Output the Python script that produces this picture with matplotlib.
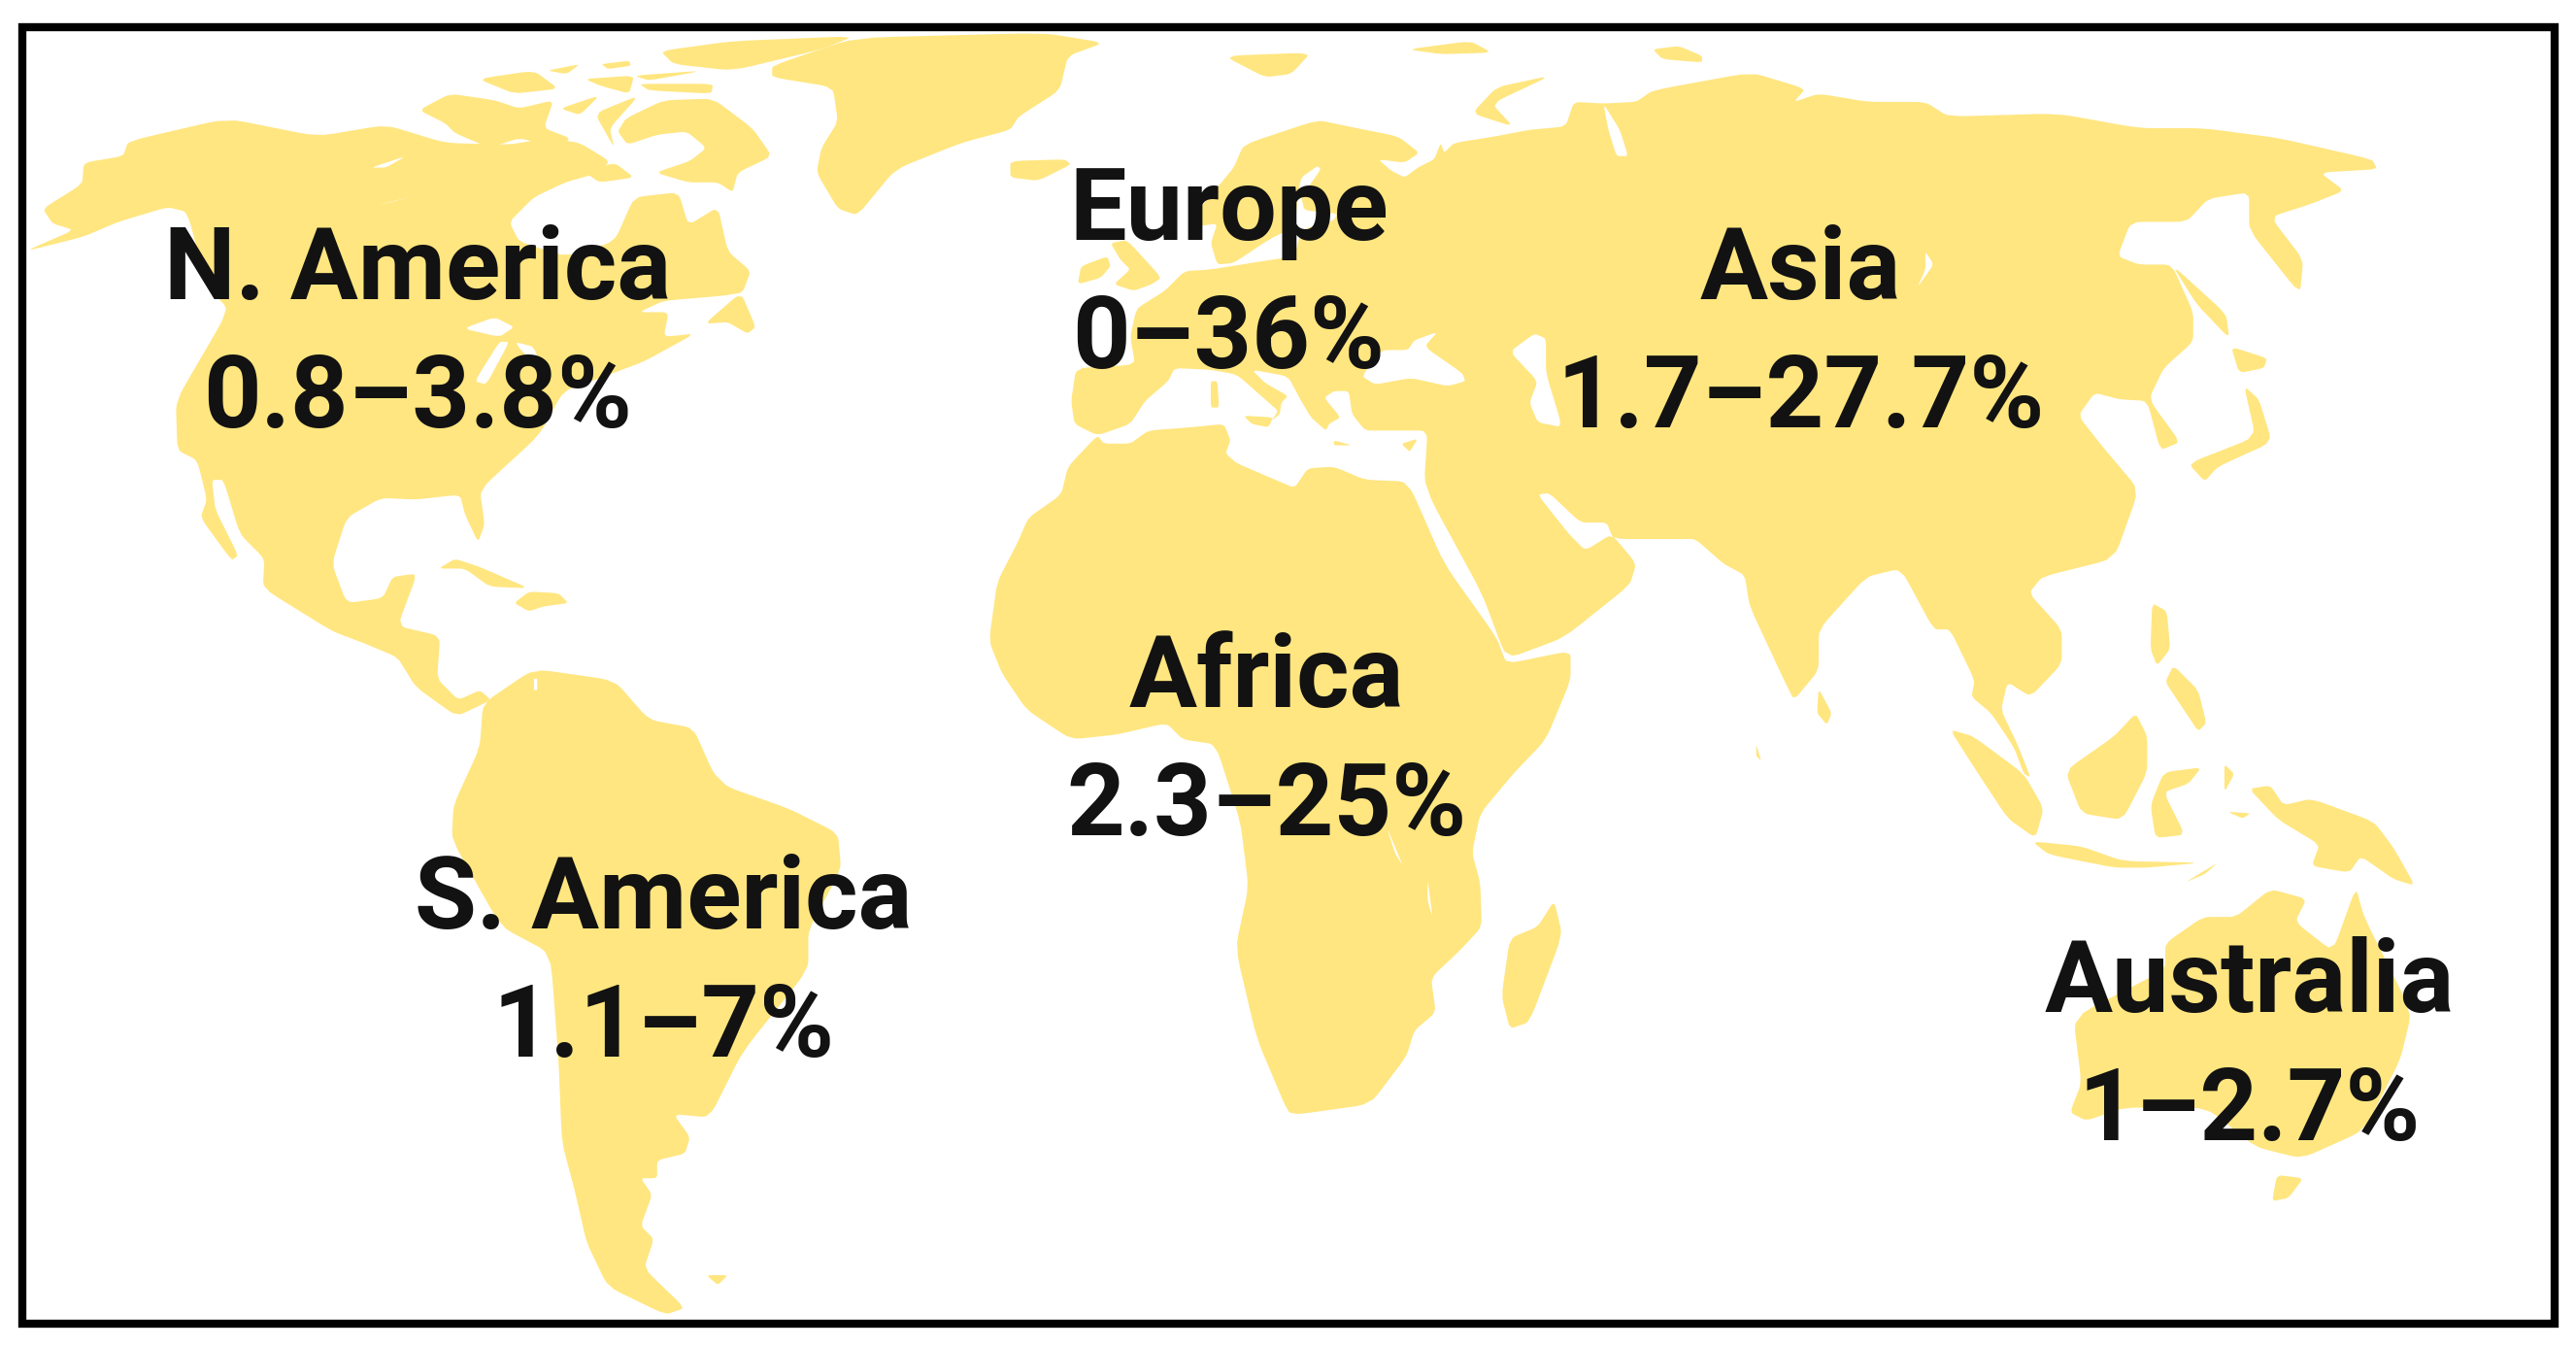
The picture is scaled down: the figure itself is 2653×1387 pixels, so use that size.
import matplotlib
matplotlib.use("Agg")
import matplotlib.pyplot as plt
from matplotlib.patches import Rectangle

plt.rcParams['font.family'] = ['Roboto', 'DejaVu Sans']

# labels
regions = ['N. America', 'Europe', 'Asia', 'Africa', 'S. America', 'Australia']
ranges = ['0.8–3.8%', '0–36%', '1.7–27.7%', '2.3–25%', '1.1–7%', '1–2.7%']
label_x = [254, 748, 1096, 771, 404, 1369]
name_base = [182, 146, 182, 430, 565, 616]
range_base = [260, 224, 260, 508, 643, 694]

# map outlines (x, y in picture units, y down)
north_america = [(15,153),(45,140),(32,136),(26,127),(50,112),(51,99),(75,95),(78,86),(138,72),(193,83),(235,76),(271,87),(310,88),
                 (334,84),(353,87),(371,98),(365,105),(344,111),(325,120),(310,135),(316,147),(344,156),(374,147),(386,120),(413,117),
                 (419,137),(437,126),(443,153),(457,165),(452,178),(440,180),(404,183),(389,190),(407,190),(404,205),(423,203),
                 (392,220),(368,229),(343,238),(328,265),(292,298),(295,319),(291,330),(283,313),(280,301),(253,304),(232,303),
                 (211,315),(202,343),(211,367),(233,364),(239,351),(254,349),(242,381),(268,387),(266,413),(279,426),(292,420),
                 (299,426),(278,436),(253,418),(242,400),(223,392),(202,384),(160,358),(161,340),(146,325),(136,292),(129,292),
                 (131,310),(145,338),(141,341),(122,315),(126,304),(120,280),(108,274),(107,244),(135,196),(138,187),(126,174),
                 (114,129),(102,126),(72,135),(51,144)]
south_america = [(294,428),(325,407),(374,414),(395,438),(422,443),(434,470),(443,479),(480,492),(510,507),(512,529),(492,566),
                 (492,590),(452,640),(432,680),(410,678),(420,692),(417,702),(400,706),(400,717),(390,717),(397,727),(390,746),
                 (398,754),(392,772),(417,796),(405,800),(370,783),(357,756),(350,725),(342,695),(340,645),(335,580),(305,564),
                 (275,511),(276,490),(292,455)]
africa = [(668,265),(672,270),(688,270),(699,262),(725,260),(745,258),(749,268),(746,276),(753,282),(774,291),(788,297),(796,285),
          (812,284),(831,292),(857,293),(879,343),(911,388),(917,404),(956,396),(956,414),(941,450),(921,471),(901,495),(896,519),
          (901,537),(902,564),(889,578),(871,595),(874,616),(861,627),(856,643),(834,672),(791,678),(784,677),(765,632),(752,577),
          (760,540),(755,500),(740,453),(720,450),(710,440),(680,447),(652,450),(625,432),(610,410),(602,390),(607,354),(619,331),
          (626,315),(646,301),(650,284)]
eurasia = [(668,265),(688,258),(697,244),(711,232),(715,224),(737,225),(753,228),(770,243),(778,250),(774,256),(779,252),(780,245),
           (784,241),(770,233),(762,225),(784,229),(792,244),(798,254),(807,262),(809,258),(816,254),(806,242),(812,238),(821,238),
           (823,252),(831,262),(847,262),(869,262),(867,292),(872,306),(902,361),(917,401),(952,388),(992,356),(996,343),(981,325),
           (965,335),(955,325),(936,301),(943,300),(962,318),(978,318),(982,328),(1020,328),(1032,328),(1049,343),(1062,350),(1065,369),
           (1086,414),(1092,426),(1107,408),(1107,383),(1136,351),(1157,346),(1177,383),(1187,383),(1202,414),(1200,424),(1212,434),
           (1226,455),(1232,471),(1236,473),(1228,453),(1218,432),(1222,415),(1236,424),(1255,404),(1255,383),(1235,361),(1243,351),
           (1287,340),(1302,298),(1280,272),(1265,253),(1275,239),(1290,243),(1307,244),(1315,274),(1327,269),(1308,243),(1317,224),
           (1335,208),(1335,190),(1322,161),(1302,161),(1289,156),(1297,135),(1331,135),(1344,121),(1369,117),(1369,140),(1400,179),
           (1402,158),(1382,132),(1407,124),(1427,116),(1412,105),(1447,103),(1444,97),(1387,84),(1341,78),(1302,78),(1252,69),
           (1186,71),(1172,62),(1137,62),(1107,57),(1092,62),(1099,54),(1066,44),(1006,55),(996,62),(976,63),(958,62),(953,77),
           (931,79),(910,83),(885,87),(879,93),(877,87),(873,97),(863,102),(855,108),(847,104),(839,97),(855,99),(864,93),(851,83),
           (821,77),(802,73),(757,88),(751,102),(741,114),(729,128),(727,138),(741,136),(737,148),(741,161),(751,160),(772,146),
           (788,138),(790,120),(792,108),(802,101),(804,103),(792,120),(794,128),(814,130),(812,134),(792,140),(788,156),(768,159),
           (737,164),(721,165),(709,177),(693,187),(691,191),(688,205),(691,222),(655,224),(652,244),(654,258)]
greenland = [(520,23),(635,20),(672,26),(650,34),(645,55),(620,71),(615,79),(585,87),(545,103),(522,131),(510,127),(497,105),
             (500,90),(510,74),(507,53),(470,47),(470,40)]
australia = [(1382,541),(1404,547),(1397,561),(1420,579),(1434,540),(1439,558),(1468,616),(1461,645),(1439,688),(1401,705),
             (1373,698),(1343,674),(1293,674),(1270,682),(1260,677),(1267,659),(1262,619),(1318,590),(1318,574),(1341,558),(1361,558)]
new_guinea = [(1369,480),(1382,478),(1390,490),(1407,486),(1445,500),(1457,516),(1470,539),(1457,535),(1437,521),(1430,531),
              (1407,527),(1412,514),(1387,499)]
madagascar = [(946,548),(951,569),(931,622),(919,626),(914,606),(919,571),(936,564)]
islands = [
    # arctic canada
    [(381,72),(404,61),(434,60),(458,78),(470,95),(449,105),(446,117),(437,111),(419,111),(399,105),(420,98),(430,90),(418,80),(400,82),(382,88),(376,80)],
    [(255,67),(274,57),(301,61),(316,66),(337,61),(331,78),(347,84),(341,90),(316,84),(298,90),(277,81),(271,75)],
    [(341,66),(365,58),(353,70)],
    [(362,69),(389,58),(371,78),(374,90)],
    [(356,105),(374,99),(386,108),(365,111)],
    [(291,48),(325,43),(340,54),(313,57)],
    [(333,43),(353,39),(345,45)],
    [(366,39),(383,37),(384,40),(370,42)],
    [(356,48),(386,46),(383,57),(365,52)],
    [(389,51),(434,51),(433,57),(395,55)],
    [(386,46),(428,43),(395,49)],
    [(402,31),(446,25),(520,22),(500,30),(446,43),(410,39)],
    # atlantic
    [(429,197),(451,178),(460,199),(455,203),(443,196)],
    [(615,98),(648,97),(652,100),(632,110),(615,108)],
    [(267,346),(277,340),(292,345),(322,358),(298,357),(283,346)],
    [(313,367),(322,360),(340,361),(346,367),(331,369),(322,372)],
    [(430,776),(443,776),(437,782)],
    [(676,148),(686,146),(707,169),(701,173),(690,177),(678,173),(688,164),(682,158)],
    [(656,173),(658,162),(674,156),(676,162),(670,169)],
    # mediterranean
    [(737,232),(741,232),(742,248),(737,248)],
    [(757,253),(775,254),(772,260),(762,258)],
    [(812,268),(823,271),(812,271)],
    [(853,270),(863,267),(858,275)],
    # arctic russia
    [(745,34),(798,32),(786,45),(770,47)],
    [(857,30),(895,25),(908,32),(877,33)],
    [(1006,30),(1022,28),(1036,34),(1036,38),(1012,36)],
    [(944,46),(911,53),(896,69),(921,77),(908,63)],
    # east asia
    [(1366,235),(1375,243),(1383,269),(1350,284),(1342,293),(1332,282),(1373,266)],
    [(1358,211),(1380,218),(1378,224),(1363,227)],
    [(1322,161),(1355,191),(1357,206),(1337,185)],
    [(1107,419),(1115,434),(1112,441),(1106,434)],
    [(1069,453),(1072,463),(1069,460)],
    # south east asia
    [(1187,444),(1201,448),(1232,471),(1244,492),(1239,510),(1222,498),(1201,466)],
    [(1237,512),(1267,515),(1292,524),(1340,525),(1307,528),(1287,528),(1247,520)],
    [(1330,537),(1350,525),(1342,532)],
    [(1300,434),(1307,448),(1307,470),(1292,499),(1267,495),(1257,469),(1287,448)],
    [(1317,470),(1340,467),(1332,477),(1317,482),(1330,508),(1312,510),(1309,490)],
    [(1310,367),(1319,372),(1321,395),(1313,405),(1309,395)],
    [(1323,405),(1338,420),(1343,440),(1338,445),(1328,430),(1318,415)],
    [(1354,465),(1360,471),(1354,482)],
    [(1356,494),(1370,495),(1365,498)],
    # tasmania
    [(1386,715),(1402,717),(1393,729),(1383,731)],
]
# water inside the land, painted over it
waters = [
    [(226,102),(247,95),(235,102)],
    [(229,125),(253,119),(238,123)],
    [(282,200),(301,193),(313,199),(304,205)],
    [(289,232),(304,208),(310,208),(296,234)],
    [(313,208),(325,211),(331,229)],
    [(325,413),(327,413),(327,420),(325,420)],
    [(829,229),(841,213),(857,213),(861,207),(875,202),(867,211),(890,227),(892,232),(881,235),(859,230),(837,234)],
    [(919,214),(934,203),(941,206),(941,227),(951,260),(936,257),(931,245),(936,232)],
    [(976,63),(986,79),(991,95),(984,95),(979,79)],
    [(1172,153),(1177,161),(1167,175),(1172,164)],
    [(844,503),(854,527),(849,519)],
    [(869,535),(872,558),(869,548)],
]
land = [north_america, south_america, africa, eurasia, greenland, australia, new_guinea, madagascar] + islands

land_color = '#FFE680'
text_color = '#121212'


def soften(shape, cut=0.12, rounds=2):
    # cut the corners a little, the coasts in the picture are not angular
    for _ in range(rounds):
        out = []
        for (x0, y0), (x1, y1) in zip(shape, shape[1:] + shape[:1]):
            out.append((x0 + cut * (x1 - x0), y0 + cut * (y1 - y0)))
            out.append((x1 - cut * (x1 - x0), y1 - cut * (y1 - y0)))
        shape = out
    return shape


fig = plt.figure(figsize=(26.53, 13.87), dpi=100)
ax = fig.add_axes([0, 0, 1, 1])
ax.set_xlim(0, 1568)
ax.set_ylim(819.7, 0)
ax.axis('off')

for shape in land:
    xs, ys = zip(*soften(shape))
    ax.fill(xs, ys, color=land_color, lw=0, zorder=1)
for shape in waters:
    xs, ys = zip(*soften(shape))
    ax.fill(xs, ys, color='white', lw=0, zorder=2)

ax.add_patch(Rectangle((13.6, 16.7), 1541.4, 789, fill=False, ec='black', lw=6, zorder=3))

for name, rng, x, y1, y2 in zip(regions, ranges, label_x, name_base, range_base):
    ax.text(x, y1, name, ha='center', va='baseline', fontsize=75, fontweight='bold', color=text_color, zorder=4)
    ax.text(x, y2, rng, ha='center', va='baseline', fontsize=75, fontweight='bold', color=text_color, zorder=4)

fig.savefig('out.png', dpi=100)
